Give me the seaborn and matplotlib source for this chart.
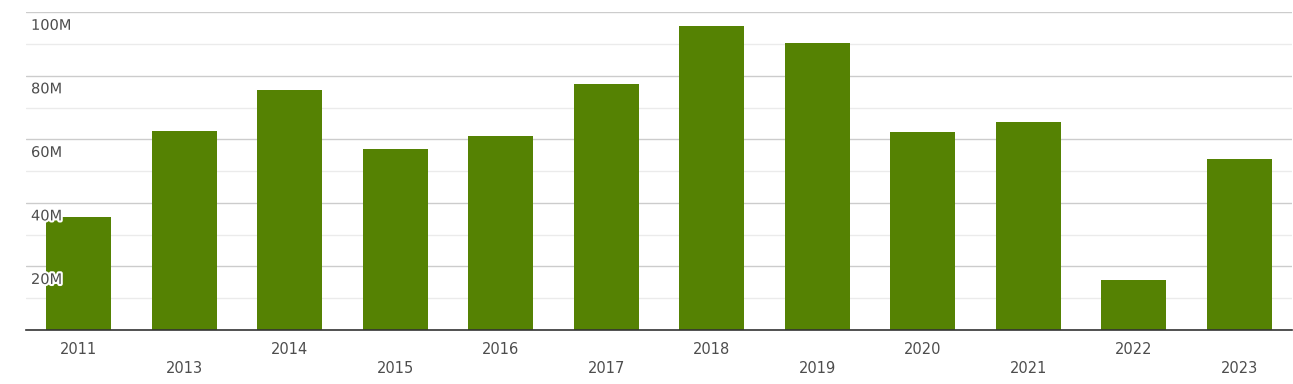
import matplotlib
matplotlib.use("Agg")
import matplotlib.pyplot as plt
import matplotlib.patheffects as pe
import matplotlib.transforms as mtransforms
import seaborn as sns
import pandas as pd

years = ["2011", "2013", "2014", "2015", "2016", "2017", "2018", "2019", "2020", "2021", "2022", "2023"]
values_m = [35.6, 62.7, 75.6, 57.0, 61.1, 77.5, 95.8, 90.2, 62.4, 65.5, 15.7, 53.9]
y_ticks = [20, 40, 60, 80, 100]
y_labels = ["20M", "40M", "60M", "80M", "100M"]

sns.set_theme(style="white")
plt.rcParams['font.family'] = ['DejaVu Sans']

df = pd.DataFrame({"year": years, "value": values_m})

fig = plt.figure(figsize=(12.93, 3.84), dpi=100)
ax = fig.add_axes([26 / 1293, 54 / 384, 1266 / 1293, 317.7 / 384])

sns.barplot(data=df, x="year", y="value", order=years, color="#558203",
            width=0.62, saturation=1, linewidth=0, edgecolor="none", ax=ax, zorder=2)

ax.set_xlim(-0.5, len(years) - 0.5)
ax.set_ylim(0, 100)
ax.set_xlabel("")
ax.set_ylabel("")

# gridlines
ax.set_yticks([0] + y_ticks)
ax.set_yticks([10, 30, 50, 70, 90], minor=True)
ax.yaxis.grid(True, which="major", color="#cccccc", linewidth=1)
ax.yaxis.grid(True, which="minor", color="#ebebeb", linewidth=1)
ax.set_axisbelow(True)
ax.tick_params(axis="y", which="both", length=0, labelleft=False)

for s in ["top", "right", "left"]:
    ax.spines[s].set_visible(False)
ax.spines["bottom"].set_color("#333333")
ax.spines["bottom"].set_linewidth(1.2)
ax.spines["bottom"].set_zorder(3)

# x tick labels, alternating rows
ax.set_xticks(range(len(years)))
ax.set_xticklabels([y if i % 2 == 0 else "\n" + y for i, y in enumerate(years)])
ax.tick_params(axis="x", length=0, pad=9, labelsize=10.5, labelcolor="#4d4d4d")
for lab in ax.get_xticklabels():
    lab.set_linespacing(1.3)

# y labels inside the plot
trans = mtransforms.blended_transform_factory(ax.transAxes, ax.transData)
offset = mtransforms.ScaledTranslation(5 / 100, -13 / 100, fig.dpi_scale_trans)
for v, lab in zip(y_ticks, y_labels):
    ax.text(0, v, lab, transform=trans + offset, ha="left", va="center",
            fontsize=10.5, color="#4d4d4d", zorder=5,
            path_effects=[pe.withStroke(linewidth=3, foreground="white")])

fig.savefig("out.png", dpi=100)
